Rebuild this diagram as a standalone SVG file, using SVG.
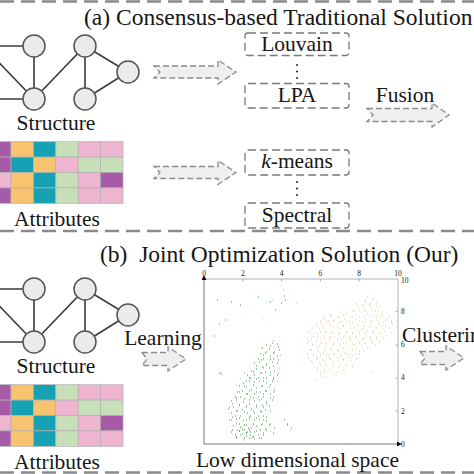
<svg xmlns="http://www.w3.org/2000/svg" xmlns:xlink="http://www.w3.org/1999/xlink" width="474" height="474" viewBox="0 0 474 474">
<style>
text{font-family:"Liberation Serif","Times New Roman",serif;fill:#161616;}
.lbl{font-size:21.5px;}
.ttl{font-size:23.5px;}
.sep{stroke:#8a8a8a;stroke-width:2.6;stroke-dasharray:14 7;fill:none;}
.box{fill:none;stroke:#7a7a7a;stroke-width:1.3;stroke-dasharray:8 4;}
.arr{fill:#efefef;stroke:#8c8c8c;stroke-width:1.3;stroke-dasharray:6 3;}
.edge{stroke:#3a3a3a;stroke-width:1.6;fill:none;}
.nd{fill:#ebebeb;stroke:#555;stroke-width:1.5;}
.cell{stroke:#b0b0b0;stroke-width:0.7;}
.pu{fill:#a65aa8;}.or{fill:#f7c36e;}.te{fill:#17a1b5;}.gr{fill:#c7e0b9;}.pk{fill:#efb5d0;}
.tick{font-size:7.5px;fill:#333;}
.ax{stroke:#777;stroke-width:1;fill:none;}
.ax2{stroke:#a0a0a0;stroke-width:0.8;fill:none;}
.gp{stroke:#3a963a;stroke-width:1.2;fill:none;}
.tp{stroke:#e0c68e;stroke-width:1.2;fill:none;}
</style>
<defs>
<pattern id="pg1" width="23" height="19" patternUnits="userSpaceOnUse">
<path class="gp" d="M1,2h1M6,1h1M13,3h1M19,1h1M9,6h1M3,8h1M16,7h1M21,10h1M7,12h1M12,11h1M1,14h1M17,14h1M10,17h1M5,17h1M20,17h1"/>
</pattern>
<pattern id="pg2" width="17" height="13" patternUnits="userSpaceOnUse" x="4" y="6">
<path class="gp" d="M2,3h1M11,2h1M7,8h1M14,9h1M4,11h1"/>
</pattern>
<pattern id="pt1" width="21" height="17" patternUnits="userSpaceOnUse">
<path class="tp" d="M1,1h1M7,3h1M14,1h1M18,5h1M4,6h1M10,8h1M16,10h1M2,11h1M8,13h1M13,15h1M19,14h1M5,16h1"/>
</pattern>
<pattern id="pt2" width="13" height="11" patternUnits="userSpaceOnUse" x="3" y="5">
<path class="tp" d="M2,2h1M9,4h1M5,8h1M11,9h1"/>
</pattern>
<g id="graph">
<path class="edge" d="M-17,46 H34 M-17,99 H34 M-17,46 L34,99 M34,46 V99 L85,46 V99 M85,46 L128,72 L85,99"/>
<circle class="nd" cx="34" cy="46" r="11"/>
<circle class="nd" cx="34" cy="99" r="11"/>
<circle class="nd" cx="85" cy="46" r="11"/>
<circle class="nd" cx="85" cy="99" r="11"/>
<circle class="nd" cx="128" cy="72" r="11"/>
</g>
<g id="grid">
<rect class="cell pu" x="-11.4" y="141.7" width="22.4" height="15.4"/><rect class="cell or" x="11" y="141.7" width="22.4" height="15.4"/><rect class="cell te" x="33.4" y="141.7" width="22.4" height="15.4"/><rect class="cell gr" x="55.8" y="141.7" width="22.4" height="15.4"/><rect class="cell pk" x="78.2" y="141.7" width="22.4" height="15.4"/><rect class="cell pk" x="100.6" y="141.7" width="22.4" height="15.4"/>
<rect class="cell pu" x="-11.4" y="157.1" width="22.4" height="15.4"/><rect class="cell te" x="11" y="157.1" width="22.4" height="15.4"/><rect class="cell or" x="33.4" y="157.1" width="22.4" height="15.4"/><rect class="cell pk" x="55.8" y="157.1" width="22.4" height="15.4"/><rect class="cell gr" x="78.2" y="157.1" width="22.4" height="15.4"/><rect class="cell gr" x="100.6" y="157.1" width="22.4" height="15.4"/>
<rect class="cell pk" x="-11.4" y="172.5" width="22.4" height="15.4"/><rect class="cell or" x="11" y="172.5" width="22.4" height="15.4"/><rect class="cell te" x="33.4" y="172.5" width="22.4" height="15.4"/><rect class="cell gr" x="55.8" y="172.5" width="22.4" height="15.4"/><rect class="cell pk" x="78.2" y="172.5" width="22.4" height="15.4"/><rect class="cell pu" x="100.6" y="172.5" width="22.4" height="15.4"/>
<rect class="cell pu" x="-11.4" y="187.9" width="22.4" height="15.4"/><rect class="cell or" x="11" y="187.9" width="22.4" height="15.4"/><rect class="cell te" x="33.4" y="187.9" width="22.4" height="15.4"/><rect class="cell gr" x="55.8" y="187.9" width="22.4" height="15.4"/><rect class="cell pk" x="78.2" y="187.9" width="22.4" height="15.4"/><rect class="cell pk" x="100.6" y="187.9" width="22.4" height="15.4"/>
</g>
</defs>
<rect width="474" height="474" fill="#ffffff"/>

<g id="separators">
<line class="sep" x1="0" y1="1.5" x2="474" y2="1.5"/>
<line class="sep" x1="0" y1="231" x2="474" y2="231"/>
<line class="sep" x1="0" y1="472.5" x2="474" y2="472.5"/>
</g>

<!-- (a) -->
<text class="ttl" x="84" y="25">(a) Consensus-based Traditional Solution</text>
<g id="structure-a"><use xlink:href="#graph"/><text class="lbl" x="56" y="130" text-anchor="middle">Structure</text></g>
<g id="attributes-a"><use xlink:href="#grid"/><text class="lbl" x="57" y="226" text-anchor="middle">Attributes</text></g>

<g id="louvain"><rect class="box" x="245" y="33" width="104" height="22.5" rx="3"/><text class="lbl" x="297" y="51" text-anchor="middle">Louvain</text></g>
<g id="lpa"><rect class="box" x="245" y="83.5" width="104" height="24.5" rx="3"/><text class="lbl" x="297" y="102" text-anchor="middle">LPA</text></g>
<g id="kmeans"><rect class="box" x="245" y="150" width="104" height="25" rx="3"/><text class="lbl" x="297" y="168" text-anchor="middle"><tspan font-style="italic">k</tspan>-means</text></g>
<g id="spectral"><rect class="box" x="245" y="203" width="104" height="25" rx="3"/><text class="lbl" x="297" y="222" text-anchor="middle">Spectral</text></g>
<g id="dots" fill="#333">
<circle cx="297" cy="65" r="1.1"/><circle cx="297" cy="71.5" r="1.1"/><circle cx="297" cy="78" r="1.1"/>
<circle cx="297" cy="182" r="1.1"/><circle cx="297" cy="188.5" r="1.1"/><circle cx="297" cy="195" r="1.1"/>
</g>
<text class="lbl" x="405" y="102" text-anchor="middle">Fusion</text>

<g id="connectors">
<path class="arr" d="M154,66 H218 V60 L236,72 L218,84 V78 H154 L160,72 Z"/>
<path class="arr" d="M154,166.5 H218 V160.5 L236,172.5 L218,184.5 V178.5 H154 L160,172.5 Z"/>
<path class="arr" d="M367,108.5 H432 V103 L449,115 L432,127 V121.5 H367 L373,115 Z"/>
<path class="arr" d="M142,352.5 H168 V347 L186,359 L168,371 V365.5 H142 L147,359 Z"/>
<path class="arr" d="M420,351.5 H446 V346 L464,358 L446,370 V364.5 H420 L425,358 Z"/>
</g>

<!-- (b) -->
<text class="ttl" x="100" y="262" xml:space="preserve">(b)  Joint Optimization Solution (Our)</text>
<g id="structure-b"><use xlink:href="#graph" transform="translate(0,243)"/><text class="lbl" x="56" y="373" text-anchor="middle">Structure</text></g>
<g id="attributes-b"><use xlink:href="#grid" transform="translate(0,243)"/><text class="lbl" x="57" y="469" text-anchor="middle">Attributes</text></g>
<text class="lbl" x="163" y="345" text-anchor="middle">Learning</text>
<text class="lbl" x="402" y="342">Clustering</text>

<g id="plot">
<path class="ax2" d="M204,279 H398 V444"/>
<path class="ax" d="M204,444 V280 M204,444 H398"/>
<path d="M204,275 L201.5,280 H206.5 Z M402,444 L397,441.5 V446.5 Z" fill="#111"/>
<path class="ax2" d="M242.8,279 v2.5 M281.6,279 v2.5 M320.4,279 v2.5 M359.2,279 v2.5 M398,311.5 h-2.5 M398,345 h-2.5 M398,378 h-2.5 M398,411 h-2.5"/>
<g class="tick" text-anchor="middle">
<text x="204" y="276">0</text><text x="242.8" y="276">2</text><text x="281.6" y="276">4</text><text x="320.4" y="276">6</text><text x="359.2" y="276">8</text><text x="398" y="276">10</text>
</g>
<g class="tick">
<text x="401" y="283">10</text><text x="401" y="314">8</text><text x="401" y="347">6</text><text x="401" y="380">4</text><text x="401" y="413.5">2</text><text x="401" y="446.5">0</text>
</g>
<!-- tan cluster -->
<g>
<path d="M305,332 L322,316 L346,310 L362,299 L370,292 L381,309 L393,318 L397,330 L386,341 L366,350 L356,364 L341,374 L322,378 L314,366 L305,355 Z M325,372 a7,4 0 1,0 14,0 a7,4 0 1,0 -14,0 Z M342,366 a8,5 0 1,0 16,0 a8,5 0 1,0 -16,0 Z M386,332 a5,5 0 1,0 10,0 a5,5 0 1,0 -10,0 Z" fill="url(#pt1)"/>
<path d="M305,332 L322,316 L346,310 L362,299 L370,292 L381,309 L393,318 L397,330 L386,341 L366,350 L356,364 L341,374 L322,378 L314,366 L305,355 Z" fill="url(#pt2)"/>
<path class="tp" d="M250,293h1M283,290h1M290,296h1M272,300h1M296,303h1M262,318h1M301,360h1M316,380h1M372,372h1M298,344h1M266,326h1"/>
</g>
<!-- green cluster -->
<g>
<path d="M265,342 L279,339 L281,360 L275,395 L269,418 L276,428 L262,439 L240,441 L230,432 L227,405 L238,382 L252,362 Z" fill="url(#pg1)"/>
<path d="M265,342 L279,339 L281,360 L275,395 L269,418 L276,428 L262,439 L240,441 L230,432 L227,405 L238,382 L252,362 Z M283,427 a6,4 0 1,0 12,0 a6,4 0 1,0 -12,0 Z" fill="url(#pg2)"/>
<path d="M237,431 a9,7 0 1,0 18,0 a9,7 0 1,0 -18,0 Z" fill="url(#pg2)"/>
<path class="gp" d="M217,300h1M231,302h1M258,297h1M285,300h1M281,303h1M275,310h1M225,320h1M219,324h1M214,336h1M240,305h1M270,302h1M284,296h1M219,373h1.5M221,374h1M287,425h1M291,428h1M242,434h1M246,436h1M250,432h1M236,438h1M273,433h1M284,420h1M244,430h1M248,428h1M240,427h1M252,437h1"/>
</g>
</g>
<text class="lbl" x="297.5" y="467" text-anchor="middle">Low dimensional space</text>
</svg>
